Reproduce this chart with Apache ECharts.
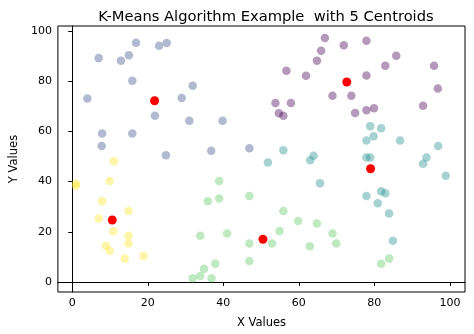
<!DOCTYPE html>
<html><head><meta charset="utf-8">
<script src="https://cdn.jsdelivr.net/npm/echarts@6/dist/echarts.min.js"></script>
<style>html,body{margin:0;padding:0;background:#fff}#c{width:474px;height:334px}</style>
</head><body><div id="c"></div>
<script>
const titleText = 'K-Means Algorithm Example  with 5 Centroids';
const xName = 'X Values';
const yName = 'Y Values';
const tickValues = [0, 20, 40, 60, 80, 100];

const c0x = [66.9, 71.9, 77.9, 65.9, 64.8, 85.8, 82.9, 95.8, 77.9, 96.8, 68.9, 73.9, 92.9, 74.9, 77.9, 79.9, 56.7, 61.9, 53.8, 57.9, 54.7, 55.9];
const c0y = [97.2, 94.3, 96.1, 92.1, 88.2, 90.1, 86.2, 86.2, 82.3, 77.1, 74.2, 74.2, 70.2, 67.3, 68.4, 69.2, 84.2, 82.2, 71.3, 71.3, 67.2, 66.2];

const c1x = [16.9, 23.0, 25.0, 7.0, 12.9, 15.0, 15.9, 4.0, 29.0, 21.9, 31.9, 31.0, 7.9, 15.9, 7.8, 24.8, 39.8, 36.8, 46.9];
const c1y = [95.3, 94.1, 95.2, 89.2, 88.2, 90.3, 80.2, 73.1, 73.3, 66.2, 78.2, 64.2, 59.2, 59.2, 54.2, 50.5, 64.2, 52.3, 53.3];

const c2x = [55.9, 51.8, 63.9, 63.0, 65.6, 78.9, 81.8, 79.8, 77.9, 86.8, 96.9, 77.9, 78.9, 93.8, 92.9, 98.9, 77.9, 81.8, 82.9, 80.9, 83.9, 84.9];
const c2y = [52.5, 47.6, 50.3, 48.5, 39.3, 62.1, 61.3, 58.1, 56.4, 56.4, 54.2, 49.6, 49.6, 49.6, 47.1, 42.3, 34.3, 36.1, 35.4, 31.4, 27.3, 16.4];

const c3x = [38.9, 35.9, 38.9, 46.9, 55.9, 59.8, 64.8, 54.9, 33.9, 41.0, 46.9, 52.9, 62.9, 46.9, 37.9, 34.9, 33.9, 31.9, 36.9, 68.9, 69.9, 83.9, 81.8];
const c3y = [40.2, 32.2, 33.3, 34.3, 28.3, 24.3, 23.3, 20.3, 18.4, 19.3, 15.3, 15.3, 14.2, 8.4, 7.3, 5.3, 2.4, 1.5, 1.5, 19.3, 15.3, 9.3, 7.3];

const c4x = [11.0, 1.0, 1.0, 9.9, 7.9, 14.9, 7.0, 10.9, 14.9, 14.9, 8.9, 9.9, 13.9, 18.9];
const c4y = [48.1, 39.2, 38.2, 40.2, 32.2, 28.3, 25.3, 20.2, 18.4, 15.3, 14.4, 12.4, 9.3, 10.3];

const centX = [21.8, 72.7, 79.0, 50.5, 10.6];
const centY = [72.2, 79.7, 45.1, 17.0, 24.7];

const clusterColors = ['rgba(68,1,84,0.5)', 'rgba(59,82,139,0.5)', 'rgba(33,145,140,0.5)', 'rgba(94,201,98,0.5)', 'rgba(253,231,37,0.5)'];

const zip = (xs, ys) => xs.map((x, i) => [x, ys[i]]);
const clusters = [[c0x, c0y], [c1x, c1y], [c2x, c2y], [c3x, c3y], [c4x, c4y]];
const font = 'DejaVu Sans';

const series = clusters.map((cl, k) => ({
  type: 'scatter', data: zip(cl[0], cl[1]), symbolSize: 8.5,
  itemStyle: { color: clusterColors[k] }, silent: true, z: 2
}));
series.push({ type: 'scatter', data: zip(centX, centY), symbolSize: 9,
  itemStyle: { color: '#ff0000', opacity: 1 }, z: 3, silent: true });

const chart = echarts.init(document.getElementById('c'), null, { renderer: 'canvas' });
chart.setOption({
  animation: false,
  backgroundColor: '#fff',
  title: { text: titleText, left: 261, top: 5, textAlign: 'center',
    textStyle: { fontFamily: font, fontSize: 14.7, fontWeight: 'normal', color: '#000' } },
  grid: { left: 57, right: 9, top: 26, bottom: 42, show: true, borderColor: '#000', borderWidth: 1, containLabel: false },
  xAxis: { type: 'value', min: -3.8, max: 104, name: xName, nameLocation: 'middle', nameGap: 25,
    nameTextStyle: { fontFamily: font, fontSize: 11.5, color: '#000' },
    axisLine: { show: true, lineStyle: { color: '#000', width: 1 } },
    axisTick: { show: true, inside: false, length: 4, customValues: tickValues, lineStyle: { color: '#000' } },
    axisLabel: { customValues: tickValues, fontFamily: font, fontSize: 11, color: '#000', margin: 6 },
    splitLine: { show: false } },
  yAxis: { type: 'value', min: -4, max: 102, name: yName, nameLocation: 'middle', nameGap: 33, nameRotate: 90,
    nameTextStyle: { fontFamily: font, fontSize: 11.5, color: '#000' },
    axisLine: { show: true, lineStyle: { color: '#000', width: 1 } },
    axisTick: { show: true, inside: false, length: 4, customValues: tickValues, lineStyle: { color: '#000' } },
    axisLabel: { customValues: tickValues, fontFamily: font, fontSize: 11, color: '#000', margin: 6 },
    splitLine: { show: false } },
  series: series
});
</script></body></html>
